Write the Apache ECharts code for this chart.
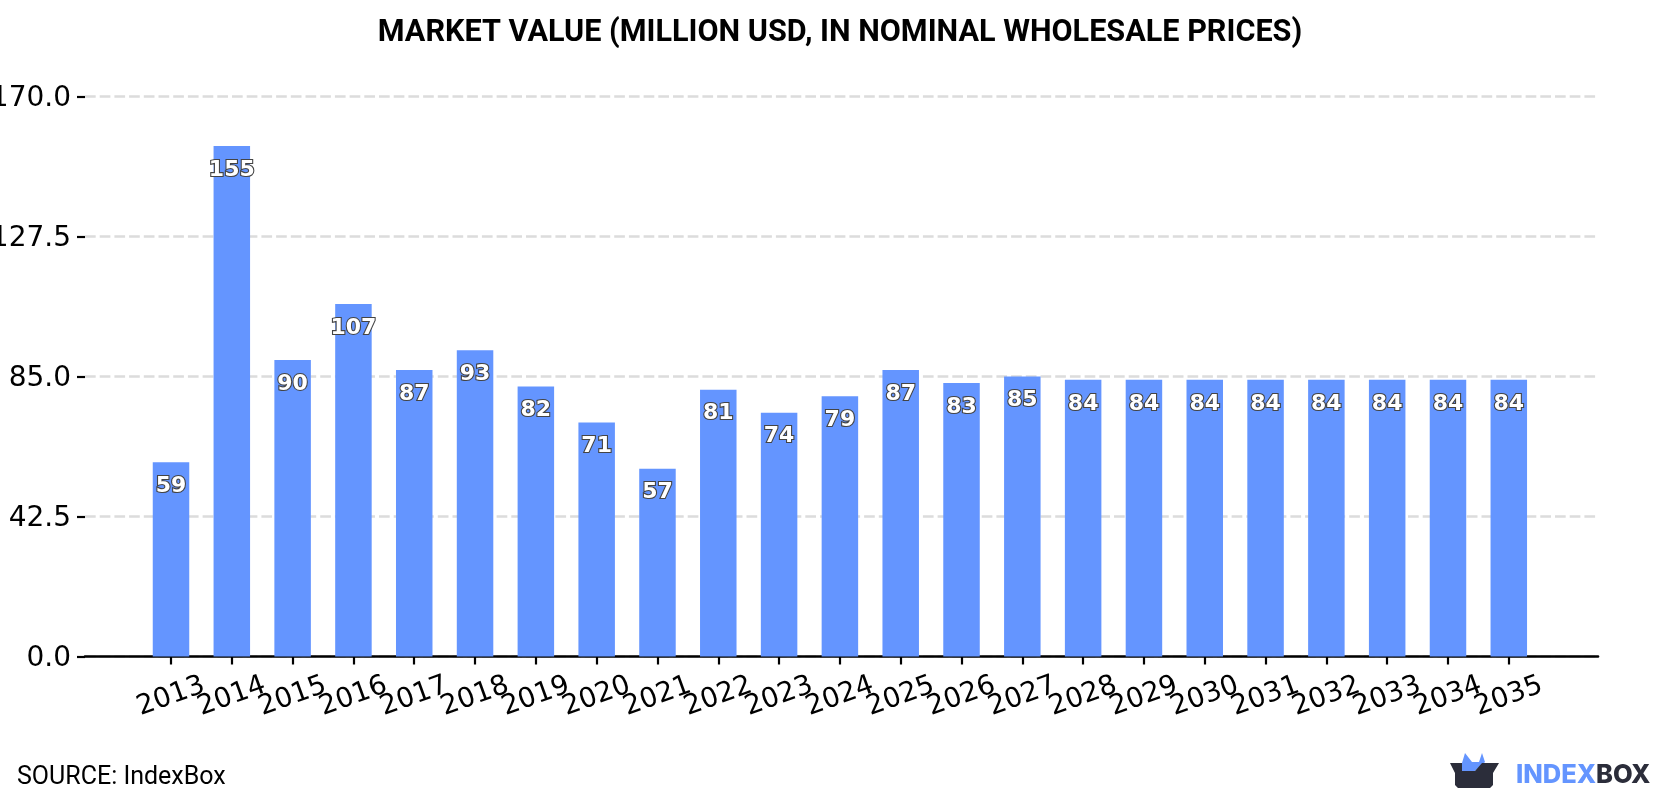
<!DOCTYPE html>
<html>
<head>
<meta charset="utf-8">
<style>html,body{margin:0;padding:0;background:#fff}#chart{width:1680px;height:800px}</style>
<script src="https://cdn.jsdelivr.net/npm/echarts@6/dist/echarts.min.js"></script>
</head>
<body>
<div id="chart"></div>
<script>
const years = ['2013','2014','2015','2016','2017','2018','2019','2020','2021','2022','2023','2024','2025','2026','2027','2028','2029','2030','2031','2032','2033','2034','2035'];
const marketValue = [59,155,90,107,87,93,82,71,57,81,74,79,87,83,85,84,84,84,84,84,84,84,84];
const yMax = 170;
const yStep = 42.5;
const titleText = 'MARKET VALUE (MILLION USD, IN NOMINAL WHOLESALE PRICES)';
const sourceText = 'SOURCE: IndexBox';

const chart = echarts.init(document.getElementById('chart'), null, {renderer: 'canvas'});
const axisFont = '"DejaVu Sans"';
const gridTop = 96.5, gridBottom = 143.5;

chart.setOption({
  animation: false,
  backgroundColor: '#ffffff',
  title: {
    text: titleText, left: 835, top: 13, textAlign: 'center',
    textStyle: {fontFamily: 'Roboto', fontWeight: 700, fontSize: 30.6, color: '#000'}
  },
  // Outer grid carries the value scale, gridlines and baseline; inner grid holds the bars.
  grid: [
    {left: 85, right: 82, top: gridTop, bottom: gridBottom, outerBoundsMode: 'none'},
    {left: 140.6, width: 1398.6, top: gridTop, bottom: gridBottom, outerBoundsMode: 'none'}
  ],
  xAxis: [
    {
      gridIndex: 0, type: 'category', data: [],
      axisLine: {show: true, lineStyle: {color: '#000', width: 2.6}},
      axisTick: {show: false}, axisLabel: {show: false}, splitLine: {show: false}
    },
    {
      gridIndex: 1, type: 'category', data: years,
      axisLine: {show: false},
      axisTick: {show: true, alignWithLabel: true, length: 8, lineStyle: {color: '#000', width: 2.2}},
      axisLabel: {
        interval: 0, rotate: 20, margin: 40, hideOverlap: false,
        align: 'center', verticalAlign: 'middle',
        fontFamily: axisFont, fontSize: 27.5, color: '#000'
      },
      splitLine: {show: false}
    }
  ],
  yAxis: [
    {
      gridIndex: 0, type: 'value', min: 0, max: yMax, interval: yStep,
      axisLine: {show: false},
      axisTick: {show: true, length: 8, lineStyle: {color: '#000', width: 2.2}},
      axisLabel: {
        margin: 14, verticalAlign: 'top', lineHeight: 5, fontFamily: axisFont, fontSize: 28, color: '#000',
        formatter: v => v.toFixed(1)
      },
      splitLine: {show: true, lineStyle: {color: '#dcdcdc', width: 2.5, type: [10.7, 4]}}
    },
    {
      gridIndex: 1, type: 'value', min: 0, max: yMax, interval: yStep, show: false,
      splitLine: {show: false}
    }
  ],
  series: [{
    type: 'bar', xAxisIndex: 1, yAxisIndex: 1, data: marketValue,
    barWidth: 36.5,
    itemStyle: {color: '#6495ff'},
    label: {
      show: true, position: 'insideTop', distance: 13,
      fontFamily: axisFont, fontWeight: 700, fontSize: 22, color: '#fff',
      textBorderColor: '#444', textBorderWidth: 2.2
    }
  }],
  graphic: [
    {type: 'text', left: 17, top: 765, style: {text: sourceText, fontFamily: 'Roboto', fontSize: 25, fill: '#000'}},
    // IndexBox logo: blue peaks rising out of a dark box, then the wordmark
    {type: 'polygon', shape: {points: [[1462,771],[1462,763],[1465,753],[1472,762],[1479,762],[1482,753],[1485,762],[1484,763],[1475,771]]}, style: {fill: '#6495ff'}},
    {type: 'polygon', shape: {points: [[1450,763],[1462,763],[1462,771],[1475,771],[1482,763],[1499,763],[1493,773],[1493,785],[1490,788],[1458,788],[1455,785],[1455,773]]}, style: {fill: '#2b2d3a'}},
    {type: 'text', left: 1516, top: 762, style: {text: 'INDEX', fontFamily: 'Inter', fontWeight: 800, fontSize: 25.5, fill: '#6495ff'}},
    {type: 'text', left: 1596, top: 762, style: {text: 'BOX', fontFamily: 'Inter', fontWeight: 800, fontSize: 25.5, fill: '#2b2d3a'}}
  ]
});
</script>
</body>
</html>
